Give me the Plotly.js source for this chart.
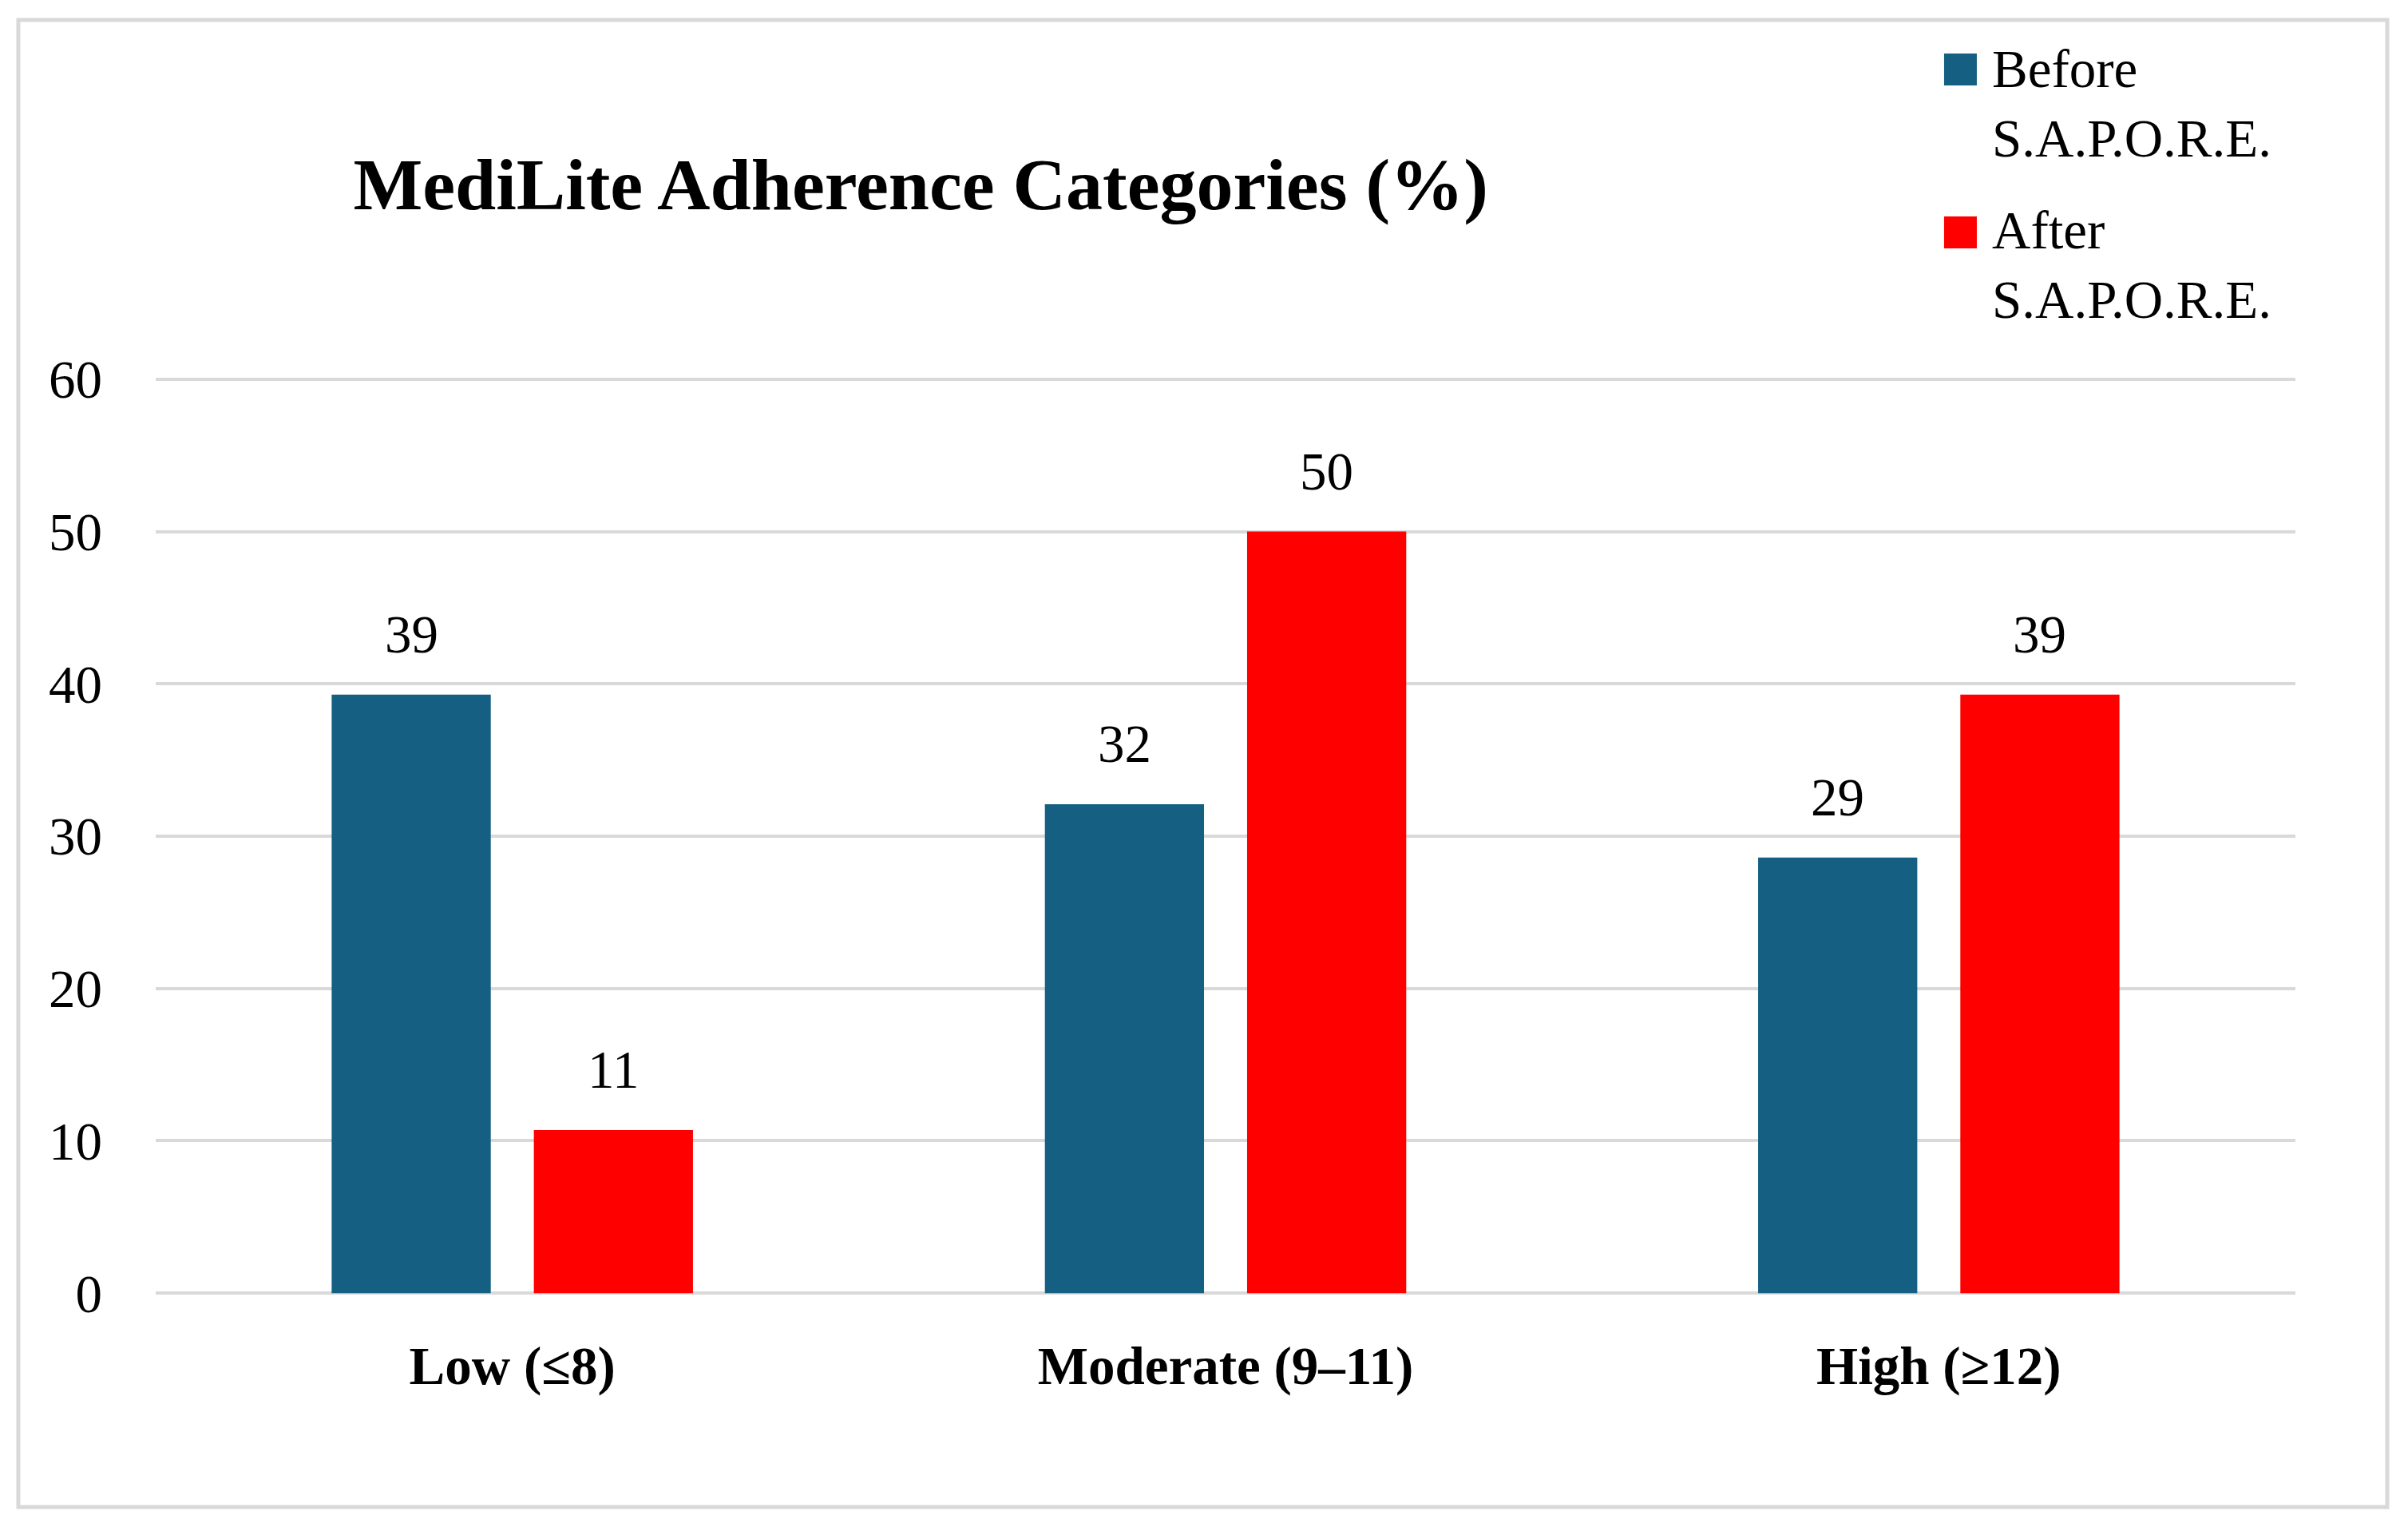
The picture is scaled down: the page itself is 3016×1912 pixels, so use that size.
<!DOCTYPE html>
<html>
<head>
<meta charset="utf-8">
<script src="https://cdn.plot.ly/plotly-3.0.1.min.js"></script>
<style>
  html, body { margin: 0; padding: 0; background: #fff; }
  #chart { width: 3016px; height: 1912px; }
</style>
</head>
<body>
<div id="chart"></div>
<script>
// values (n = 28, so 11/28, 9/28, 8/28 ...)
const categories = ['Low (≤8)', 'Moderate (9–11)', 'High (≥12)'];
const beforeValues = [39.3, 32.1, 28.6];
const afterValues = [10.7, 50.0, 39.3];
const seriesNames = ['Before<br>S.A.P.O.R.E.', 'After<br>S.A.P.O.R.E.'];
const seriesColors = ['#156082', '#ff0000'];
const yTickVals = [0, 10, 20, 30, 40, 50, 60];

const fontFamily = '"Liberation Serif", "Times New Roman", serif';
const barGap = 0.433;
const barGroupGap = 0.213;
// offset of each bar's centre from the category centre, in category units
const slot = (1 - barGap) / 2;
const barOffsets = [-slot / 2, slot / 2];

const allSeries = [beforeValues, afterValues];

const traces = allSeries.map((vals, s) => ({
    type: 'bar',
    x: categories,
    y: vals,
    name: seriesNames[s].replace('<br>', ' '),
    marker: {color: seriesColors[s]},
    showlegend: false,
    hovertemplate: '%{x}: %{y:.1f}%<extra></extra>'
}));

let annotations = [];
// value labels above bars
allSeries.forEach((vals, s) => {
    vals.forEach((v, i) => {
        annotations.push({
            x: i + barOffsets[s],
            y: v,
            xref: 'x',
            yref: 'y',
            text: Math.round(v).toString(),
            showarrow: false,
            yanchor: 'bottom',
            yshift: 37,
            font: {family: fontFamily, size: 67, color: '#000'}
        });
    });
});

// hand made legend, plotly's legend squares are too small here
const legendSquareY = [[1.3522, 1.3174], [1.1748, 1.1400]];
const legendTextY = [1.2974, 1.1226];
let shapes = [];
seriesNames.forEach((name, s) => {
    shapes.push({
        type: 'rect',
        xref: 'paper', yref: 'paper',
        x0: 0.8358, x1: 0.8511,
        y0: legendSquareY[s][1], y1: legendSquareY[s][0],
        fillcolor: seriesColors[s],
        line: {width: 0}
    });
    annotations.push({
        xref: 'paper', yref: 'paper',
        x: 0.8575, y: legendTextY[s],
        xanchor: 'left', yanchor: 'middle',
        align: 'left',
        text: name,
        showarrow: false,
        font: {family: fontFamily, size: 67, color: '#000'}
    });
});

// outer frame
shapes.push({
    type: 'rect',
    xref: 'paper', yref: 'paper',
    x0: -0.0642, x1: 1.0429,
    y0: -0.2304, y1: 1.3887,
    line: {color: '#d9d9d9', width: 5},
    fillcolor: 'rgba(0,0,0,0)',
    layer: 'below'
});

const layout = {
    width: 3016,
    height: 1912,
    margin: {l: 195, r: 141, t: 472, b: 290},
    paper_bgcolor: '#fff',
    plot_bgcolor: '#fff',
    font: {family: fontFamily, size: 67, color: '#000'},
    barmode: 'group',
    bargap: barGap,
    bargroupgap: barGroupGap,
    title: {
        text: '<b>MediLite Adherence Categories (%)</b>',
        font: {family: fontFamily, size: 92, color: '#000'},
        xref: 'paper',
        x: 0.3575,
        xanchor: 'center',
        yref: 'container',
        y: 0.8800,
        yanchor: 'middle'
    },
    xaxis: {
        type: 'category',
        tickvals: categories,
        ticktext: categories.map(c => '<b>' + c + '</b>'),
        tickfont: {family: fontFamily, size: 67, color: '#000'},
        ticks: '',
        ticklabelstandoff: 43,
        showline: false,
        showgrid: false,
        zeroline: false
    },
    yaxis: {
        range: [-0.15, 60.15],
        tickvals: yTickVals,
        tickfont: {family: fontFamily, size: 67, color: '#000'},
        ticks: '',
        ticklabelstandoff: 66,
        showgrid: true,
        gridcolor: '#d9d9d9',
        gridwidth: 4,
        zeroline: false,
        showline: false
    },
    shapes: shapes,
    annotations: annotations,
    showlegend: false
};

Plotly.newPlot('chart', traces, layout, {staticPlot: true});
</script>
</body>
</html>
